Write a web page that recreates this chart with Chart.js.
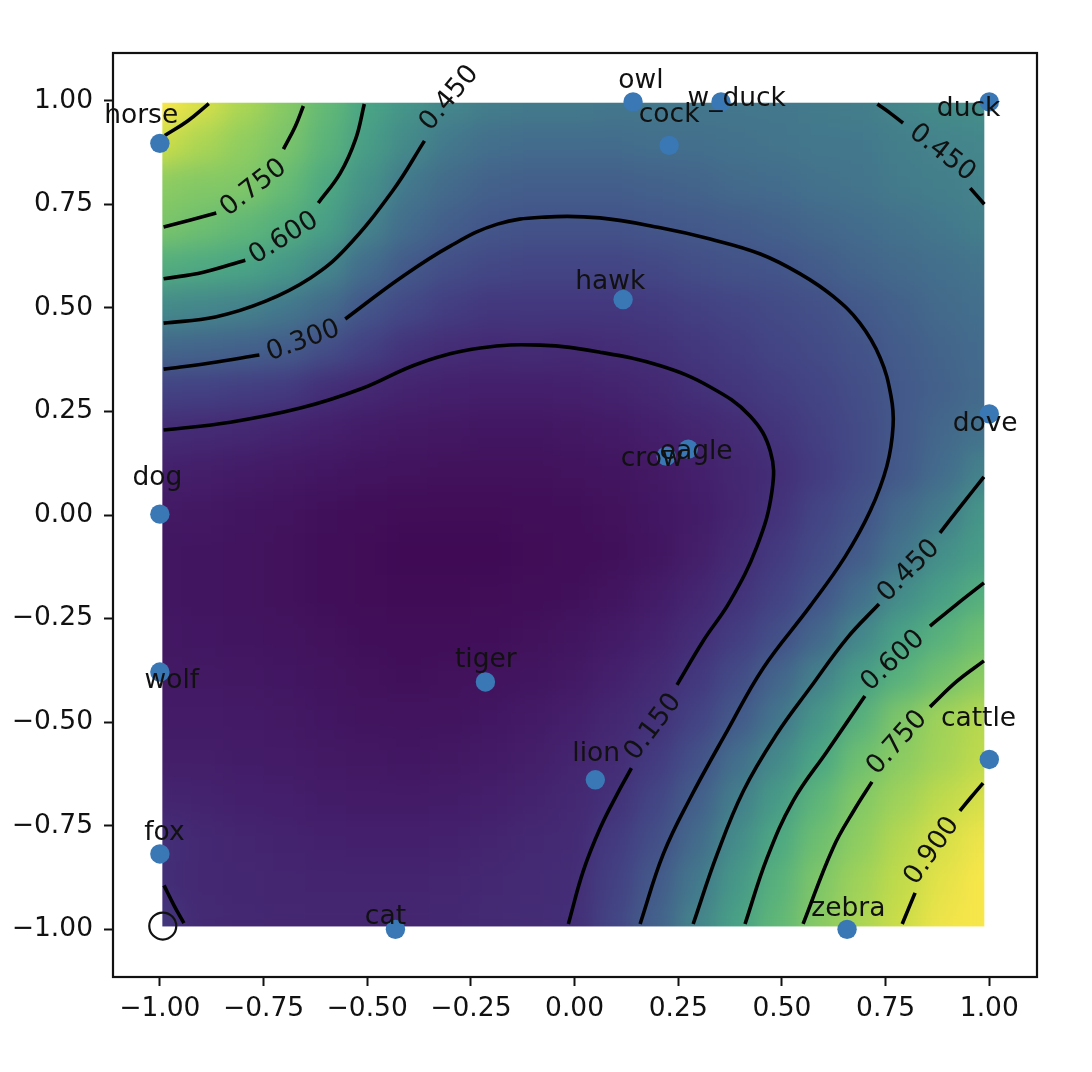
<!DOCTYPE html>
<html>
<head>
<meta charset="utf-8">
<style>
  html, body { margin: 0; padding: 0; background: #fff; }
  canvas { display: block; filter: blur(0.45px); }
</style>
<script src="https://cdn.jsdelivr.net/npm/chart.js@4/dist/chart.umd.js"></script>
</head>
<body>
<canvas id="surface" width="1092" height="1072"></canvas>
<script>
// axis ticks
const tickValues = [-1, -0.75, -0.5, -0.25, 0, 0.25, 0.5, 0.75, 1];
const tickLabels = ['\u22121.00', '\u22120.75', '\u22120.50', '\u22120.25', '0.00', '0.25', '0.50', '0.75', '1.00'];

// animals
const animalNames = ['horse', 'owl', 'w_duck', 'duck', 'cock', 'hawk', 'dove', 'eagle', 'crow', 'dog', 'wolf', 'tiger', 'lion', 'fox', 'cat', 'zebra', 'cattle'];
const animalX = [-1.0, 0.141, 0.353, 1.0, 0.228, 0.117, 1.0, 0.274, 0.221, -1.0, -1.0, -0.215, 0.05, -1.0, -0.432, 0.657, 1.0];
const animalY = [0.897, 0.997, 0.997, 0.997, 0.892, 0.52, 0.244, 0.159, 0.142, 0.002, -0.379, -0.403, -0.639, -0.818, -1.0, -1.0, -0.59];
const nameX = [-1.045, 0.16, 0.391, 0.95, 0.228, 0.086, 0.99, 0.293, 0.187, -1.006, -0.971, -0.214, 0.052, -0.989, -0.456, 0.66, 0.974];
const nameY = [0.946, 1.03, 0.987, 0.963, 0.948, 0.545, 0.203, 0.135, 0.118, 0.072, -0.417, -0.367, -0.594, -0.784, -0.987, -0.968, -0.509];

// open circle in the lower left corner
const originX = [-0.993];
const originY = [-0.992];

// surface samples, top row first
const fieldX = [-0.994, -0.891, -0.792, -0.693, -0.594, -0.495, -0.396, -0.297, -0.198, -0.099, 0, 0.099, 0.198, 0.297, 0.396, 0.495, 0.594, 0.693, 0.792, 0.891, 0.988];
const fieldY = [0.995, 0.891, 0.792, 0.693, 0.594, 0.495, 0.396, 0.297, 0.198, 0.099, 0, -0.099, -0.198, -0.297, -0.396, -0.495, -0.594, -0.693, -0.792, -0.891, -0.993];
const fieldRows = [
  [1.0, .93, .85, .78, .69, .59, .52, .47, .44, .43, .43, .42, .42, .42, .42, .42, .43, .44, .47, .49, .50],
  [.91, .85, .80, .75, .66, .56, .48, .42, .39, .38, .38, .38, .39, .39, .40, .41, .42, .42, .44, .46, .47],
  [.79, .77, .765, .70, .61, .51, .42, .37, .34, .33, .33, .33, .34, .35, .37, .38, .40, .41, .43, .44, .46],
  [.75, .72, .68, .635, .57, .46, .38, .33, .30, .29, .29, .29, .30, .31, .32, .34, .36, .38, .40, .42, .44],
  [.63, .615, .59, .54, .47, .38, .31, .27, .25, .24, .24, .24, .25, .27, .29, .295, .32, .35, .37, .39, .41],
  [.48, .47, .45, .42, .37, .295, .25, .21, .19, .19, .19, .19, .20, .22, .24, .26, .28, .31, .34, .37, .39],
  [.36, .35, .34, .32, .27, .22, .17, .15, .14, .145, .14, .15, .165, .19, .21, .24, .26, .29, .32, .35, .38],
  [.23, .225, .21, .20, .155, .13, .11, .10, .095, .095, .10, .11, .13, .16, .185, .21, .24, .27, .31, .34, .37],
  [.15, .14, .13, .11, .095, .08, .07, .065, .06, .06, .065, .075, .095, .12, .145, .18, .22, .26, .31, .36, .40],
  [.10, .09, .08, .07, .06, .05, .045, .04, .04, .04, .045, .055, .07, .095, .125, .155, .205, .26, .315, .38, .45],
  [.07, .065, .055, .045, .035, .025, .02, .02, .02, .025, .03, .04, .06, .085, .12, .17, .24, .29, .37, .43, .53],
  [.06, .055, .05, .04, .03, .02, .01, .01, .01, .02, .025, .035, .055, .09, .14, .20, .26, .32, .41, .50, .56],
  [.06, .055, .05, .04, .03, .02, .015, .015, .02, .025, .035, .05, .08, .12, .17, .23, .295, .39, .49, .57, .64],
  [.065, .06, .055, .05, .04, .03, .025, .025, .03, .04, .055, .075, .105, .15, .21, .275, .36, .47, .58, .65, .72],
  [.07, .07, .065, .06, .05, .04, .035, .04, .045, .055, .07, .10, .135, .19, .26, .35, .45, .56, .65, .73, .79],
  [.08, .08, .075, .07, .06, .05, .05, .05, .06, .075, .095, .125, .16, .23, .31, .41, .53, .645, .76, .83, .87],
  [.09, .09, .085, .08, .07, .065, .06, .065, .075, .09, .115, .145, .20, .28, .385, .48, .60, .72, .79, .84, .885],
  [.12, .11, .10, .095, .085, .08, .08, .085, .095, .11, .13, .165, .24, .33, .44, .55, .67, .77, .83, .885, .93],
  [.16, .13, .12, .11, .105, .10, .10, .105, .115, .13, .14, .20, .27, .37, .49, .61, .72, .80, .87, .93, .98],
  [.155, .13, .125, .12, .115, .115, .115, .12, .13, .14, .15, .22, .31, .42, .54, .65, .76, .83, .89, .96, 1.0],
  [.19, .14, .13, .125, .125, .125, .125, .13, .14, .145, .155, .24, .34, .46, .58, .68, .78, .85, .91, .98, 1.0]
];

// contour lines, one array per stretch between labels
const contour150Corner = [[-0.99, -0.894], [-0.966, -0.942], [-0.942, -0.985]];
const contour150Upper = [[-0.991, 0.205], [-0.83, 0.224], [-0.661, 0.258], [-0.516, 0.304], [-0.372, 0.367], [-0.227, 0.403], [-0.083, 0.41], [0.061, 0.393], [0.207, 0.36], [0.327, 0.309], [0.423, 0.239], [0.472, 0.154], [0.476, 0.058], [0.44, -0.075], [0.375, -0.208], [0.31, -0.304], [0.247, -0.41]];
const contour150Lower = [[0.137, -0.611], [0.103, -0.673], [0.062, -0.755], [0.021, -0.859], [-0.015, -0.987]];
const contour300Left = [[-0.991, 0.352], [-0.879, 0.367], [-0.76, 0.386]];
const contour300Main = [[-0.553, 0.473], [-0.42, 0.572], [-0.3, 0.649], [-0.186, 0.702], [-0.071, 0.719], [0.061, 0.717], [0.207, 0.693], [0.327, 0.666], [0.448, 0.63], [0.544, 0.582], [0.623, 0.528], [0.688, 0.463], [0.737, 0.379], [0.763, 0.287], [0.768, 0.215], [0.753, 0.118], [0.713, 0.01], [0.652, -0.101], [0.568, -0.22], [0.455, -0.369], [0.368, -0.521], [0.279, -0.683], [0.214, -0.818], [0.158, -0.987]];
const contour450Left = [[-0.991, 0.463], [-0.866, 0.478], [-0.745, 0.516], [-0.637, 0.572], [-0.553, 0.642], [-0.439, 0.782], [-0.362, 0.903]];
const contour450TopA = [[0.73, 0.992], [0.761, 0.97], [0.792, 0.946]];
const contour450TopB = [[0.954, 0.789], [0.988, 0.75]];
const contour450RightA = [[0.987, 0.092], [0.934, 0.025], [0.881, -0.043]];
const contour450RightB = [[0.734, -0.215], [0.657, -0.297], [0.568, -0.417], [0.488, -0.528], [0.407, -0.666], [0.344, -0.818], [0.286, -0.987]];
const contour600LeftA = [[-0.991, 0.57], [-0.895, 0.586], [-0.794, 0.615]];
const contour600LeftB = [[-0.618, 0.753], [-0.565, 0.825], [-0.528, 0.907], [-0.507, 0.992]];
const contour600RightA = [[0.987, -0.164], [0.922, -0.215], [0.857, -0.268]];
const contour600RightB = [[0.7, -0.437], [0.609, -0.57], [0.527, -0.69], [0.464, -0.828], [0.411, -0.987]];
const contour750LeftA = [[-0.991, 0.695], [-0.926, 0.712], [-0.864, 0.729]];
const contour750LeftB = [[-0.702, 0.883], [-0.673, 0.939], [-0.654, 0.987]];
const contour750RightA = [[0.987, -0.352], [0.922, -0.401], [0.857, -0.463]];
const contour750RightB = [[0.717, -0.644], [0.676, -0.709], [0.623, -0.804], [0.551, -0.987]];
const contour900Corner = [[-0.988, 0.916], [-0.933, 0.951], [-0.882, 0.993]];
const contour900RightA = [[0.985, -0.647], [0.957, -0.68], [0.929, -0.714]];
const contour900RightB = [[0.821, -0.912], [0.79, -0.987]];

const contourLines = [
  contour150Corner, contour150Upper, contour150Lower, contour300Left, contour300Main,
  contour450Left, contour450TopA, contour450TopB, contour450RightA, contour450RightB,
  contour600LeftA, contour600LeftB, contour600RightA, contour600RightB,
  contour750LeftA, contour750LeftB, contour750RightA, contour750RightB,
  contour900Corner, contour900RightA, contour900RightB
];

// contour labels
const levelText = ['0.750', '0.600', '0.300', '0.450', '0.450', '0.450', '0.600', '0.750', '0.900', '0.150'];
const levelX = [-0.774, -0.701, -0.654, -0.302, 0.886, 0.806, 0.768, 0.778, 0.862, 0.19];
const levelY = [0.789, 0.668, 0.42, 1.006, 0.874, -0.135, -0.352, -0.55, -0.811, -0.512];
const levelAngle = [-38, -32, -20, -50, 38, -45, -43, -48, -55, -53];

// muted viridis, one colour per 0.1
const ramp = ['#400852', '#44206c', '#433a80', '#43568a', '#43728c', '#448f8a', '#4aa684', '#66bb74', '#8fcd60', '#c7dc48', '#f8e64a'];

const FONT = '"DejaVu Sans", sans-serif';
const INK = '#111111';

function rampColor(v) {
  const pos = Math.min(Math.max(v, 0), 1) * (ramp.length - 1);
  const i = Math.min(Math.floor(pos), ramp.length - 2);
  const t = pos - i;
  const channel = (hex, at) => parseInt(hex.substr(at, 2), 16);
  const mix = at => Math.round(channel(ramp[i], at) * (1 - t) + channel(ramp[i + 1], at) * t);
  return `rgb(${mix(1)},${mix(3)},${mix(5)})`;
}

const fieldPoints = [];
const fieldColors = [];
fieldRows.forEach((row, r) => {
  row.forEach((v, c) => {
    fieldPoints.push({ x: fieldX[c], y: fieldY[r] });
    fieldColors.push(rampColor(v));
  });
});

// Soften the sample squares, then trim the spill outside the field
const fieldSmoother = {
  id: 'fieldSmoother',
  afterDatasetDraw(chart, args) {
    if (chart.data.datasets[args.index].label !== 'field') return;
    const { ctx, canvas, chartArea, scales } = chart;
    const left = scales.x.getPixelForValue(fieldX[0]);
    const right = scales.x.getPixelForValue(fieldX[fieldX.length - 1]);
    const top = scales.y.getPixelForValue(fieldY[0]);
    const bottom = scales.y.getPixelForValue(fieldY[fieldY.length - 1]);
    const pad = 21;
    const dpr = chart.currentDevicePixelRatio;
    const sx = left - pad, sy = top - pad, sw = right - left + 2 * pad, sh = bottom - top + 2 * pad;
    ctx.save();
    ctx.filter = 'blur(13px)';
    ctx.drawImage(canvas, sx * dpr, sy * dpr, sw * dpr, sh * dpr, sx, sy, sw, sh);
    ctx.filter = 'none';
    ctx.fillStyle = '#ffffff';
    ctx.fillRect(chartArea.left, chartArea.top, chartArea.width, top - chartArea.top);
    ctx.fillRect(chartArea.left, bottom, chartArea.width, chartArea.bottom - bottom);
    ctx.fillRect(chartArea.left, chartArea.top, left - chartArea.left, chartArea.height);
    ctx.fillRect(right, chartArea.top, chartArea.right - right, chartArea.height);
    ctx.restore();
  }
};

const textAndFrame = {
  id: 'textAndFrame',
  afterDatasetsDraw(chart) {
    const { ctx, chartArea, scales } = chart;
    ctx.save();
    ctx.font = `26.5px ${FONT}`;
    ctx.fillStyle = INK;
    ctx.textAlign = 'center';

    // animal names
    ctx.textBaseline = 'alphabetic';
    animalNames.forEach((name, i) => {
      ctx.fillText(name, scales.x.getPixelForValue(nameX[i]), scales.y.getPixelForValue(nameY[i]));
    });

    // contour levels
    ctx.textBaseline = 'middle';
    levelText.forEach((text, i) => {
      ctx.save();
      ctx.translate(scales.x.getPixelForValue(levelX[i]), scales.y.getPixelForValue(levelY[i]));
      ctx.rotate(levelAngle[i] * Math.PI / 180);
      ctx.fillText(text, 0, 0);
      ctx.restore();
    });

    // top and right spines come with the box
    ctx.strokeStyle = INK;
    ctx.lineWidth = 2.2;
    ctx.strokeRect(chartArea.left, chartArea.top, chartArea.width, chartArea.height);
    ctx.restore();
  }
};

const datasets = [
  {
    label: 'animals',
    order: 1,
    data: animalNames.map((_, i) => ({ x: animalX[i], y: animalY[i] })),
    pointRadius: 9.7,
    pointBackgroundColor: '#3a78b5',
    pointBorderWidth: 0
  },
  {
    label: 'origin',
    order: 2,
    data: originX.map((x, i) => ({ x, y: originY[i] })),
    pointRadius: 13.5,
    pointBackgroundColor: 'rgba(0,0,0,0)',
    pointBorderColor: INK,
    pointBorderWidth: 2.2
  }
];

contourLines.forEach((line, i) => {
  datasets.push({
    label: 'contour ' + i,
    order: 5,
    showLine: true,
    tension: 0.4,
    data: line.map(p => ({ x: p[0], y: p[1] })),
    borderColor: '#000000',
    borderWidth: 3.6,
    pointRadius: 0
  });
});

datasets.push({
  label: 'field',
  order: 10,
  data: fieldPoints,
  pointStyle: 'rect',
  pointRadius: 32,
  pointBackgroundColor: fieldColors,
  pointBorderWidth: 0
});

function axisOptions(min, max, gap) {
  return {
    type: 'linear',
    min,
    max,
    afterBuildTicks(axis) {
      axis.ticks = tickValues.map(value => ({ value }));
    },
    ticks: {
      autoSkip: false,
      maxRotation: 0,
      color: INK,
      padding: gap,
      font: { family: FONT, size: 26.5 },
      callback: value => tickLabels[tickValues.indexOf(value)]
    },
    grid: {
      drawOnChartArea: false,
      drawTicks: true,
      tickLength: 9,
      tickWidth: 2,
      tickColor: INK
    },
    border: { display: true, color: INK, width: 2 }
  };
}

const xAxis = axisOptions(-1.113, 1.115, 7);
xAxis.afterFit = axis => { axis.height = 95; };
const yAxis = axisOptions(-1.115, 1.115, 11);
yAxis.afterFit = axis => { axis.width = 113; };

new Chart(document.getElementById('surface').getContext('2d'), {
  type: 'scatter',
  data: { datasets },
  options: {
    responsive: false,
    animation: false,
    layout: { padding: { top: 53, right: 55, left: 0, bottom: 0 } },
    plugins: {
      legend: { display: false },
      tooltip: { enabled: false }
    },
    scales: { x: xAxis, y: yAxis }
  },
  plugins: [fieldSmoother, textAndFrame]
});
</script>
</body>
</html>
